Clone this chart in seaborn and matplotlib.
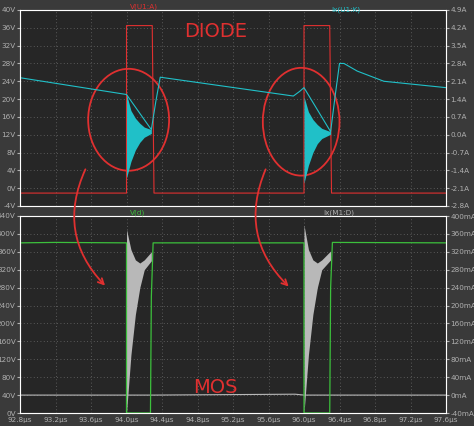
"""
LTspice-style waveform capture: diode and MOSFET switching
"""

import numpy as np
import matplotlib.pyplot as plt
import seaborn as sns
from matplotlib.patches import Ellipse

# ---- data (time in us) ----
va_t = [92.8, 94.0, 94.0, 94.29, 94.31, 96.0, 96.0, 96.29, 96.31, 97.6]
va_v = [-1.1, -1.1, 36.5, 36.5, -1.1, -1.1, 36.5, 36.5, -1.1, -1.1]

ik_t = [92.8, 94.0, 94.28, 94.33, 94.38, 95.88, 95.95, 96.0, 96.3, 96.35, 96.4, 96.45, 96.6, 96.9, 97.6]
ik_a = [2.24, 1.58, 0.20, 1.30, 2.26, 1.52, 1.70, 1.85, 0.12, 1.50, 2.80, 2.80, 2.50, 2.10, 1.85]

# oscillation envelopes of the diode current
env1_t = [94.0, 94.05, 94.1, 94.15, 94.2, 94.28]
env1_hi = [1.60, 0.95, 0.65, 0.45, 0.30, 0.20]
env1_lo = [-1.70, -1.05, -0.60, -0.30, -0.10, 0.05]
env2_t = [96.0, 96.05, 96.1, 96.15, 96.2, 96.3]
env2_hi = [1.50, 0.90, 0.60, 0.40, 0.25, 0.12]
env2_lo = [-1.90, -1.20, -0.70, -0.35, -0.15, 0.02]

vd_t = [92.8, 93.2, 94.0, 94.0, 94.27, 94.28, 94.3, 96.0, 96.0, 96.29, 96.3, 96.32, 97.6]
vd_v = [380, 381, 380, 0, 0, 260, 380, 380, 0, 0, 280, 381, 380]

id_t = [92.8, 94.0, 94.0, 94.3, 94.3, 95.9, 96.0, 96.0, 96.3, 96.3, 97.6]
id_a = [0, 0, 0, 0, 0, 2, 0, 0, 0, 0, 0]
envm1_t = [94.0, 94.05, 94.1, 94.15, 94.2, 94.28]
envm1_hi = [370, 325, 302, 295, 302, 320]
envm1_lo = [-40, 90, 180, 240, 280, 300]
envm2_t = [96.0, 96.05, 96.1, 96.15, 96.2, 96.3]
envm2_hi = [380, 325, 302, 295, 302, 322]
envm2_lo = [-40, 90, 180, 240, 280, 302]

x_ticks = [92.8, 93.2, 93.6, 94.0, 94.4, 94.8, 95.2, 95.6, 96.0, 96.4, 96.8, 97.2, 97.6]

BG = '#262626'
FIG_BG = '#3a3a3a'
TXT = '#b0b0b0'
RED = '#e03030'
CYAN = '#20c0c8'
GREEN = '#3cc03c'
GREY = '#b8b8b8'
FS = 5.2


def style(ax, ylim, yticks, ylabels):
    ax.set_facecolor(BG)
    ax.set_xlim(92.8, 97.6)
    ax.set_ylim(*ylim)
    ax.set_yticks(yticks)
    ax.set_yticklabels(ylabels)
    ax.set_xticks(x_ticks)
    ax.grid(True, color='#6a6a6a', linestyle=(0, (1, 3)), linewidth=0.6)
    ax.tick_params(colors=TXT, labelsize=FS, length=2, pad=1)
    for s in ax.spines.values():
        s.set_color('#909090')


sns.set_style("dark")
fig = plt.figure(figsize=(4.74, 4.26), dpi=100, facecolor=FIG_BG)
ax1 = fig.add_axes([20 / 474, 1 - 206 / 426, 426 / 474, 196 / 426])
ax2 = fig.add_axes([20 / 474, 1 - 413 / 426, 426 / 474, 197 / 426])

# top panel
style(ax1, (-4, 40), range(-4, 41, 4), [f'{v}V' for v in range(-4, 41, 4)])
ax1.set_xticklabels([])
sns.lineplot(x=va_t, y=va_v, ax=ax1, color=RED, linewidth=0.8, sort=False, estimator=None)
r1 = ax1.twinx()
r1.set_ylim(-2.8, 4.9)
r1.set_yticks(np.arange(-2.8, 4.95, 0.7))
r1.set_yticklabels([f'{v:.1f}A' for v in np.arange(-2.8, 4.95, 0.7)])
r1.tick_params(colors=TXT, labelsize=FS, length=2, pad=1)
sns.lineplot(x=ik_t, y=ik_a, ax=r1, color=CYAN, linewidth=0.8, sort=False, estimator=None)
r1.fill_between(env1_t, env1_lo, env1_hi, color=CYAN, linewidth=0)
r1.fill_between(env2_t, env2_lo, env2_hi, color=CYAN, linewidth=0)
r1.set_ylabel('')
ax1.set_title('V(U1:A)', color=RED, fontsize=FS, pad=1, x=0.29)
fig.text(0.73, 0.972, 'Ix(U1:K)', color=CYAN, fontsize=FS, ha='center')
ax1.text(94.65, 34, 'DIODE', color=RED, fontsize=14)

# bottom panel
style(ax2, (0, 440), range(0, 441, 40), [f'{v}V' for v in range(0, 441, 40)])
ax2.set_xticklabels([f'{v:.1f}µs' for v in x_ticks])
r2 = ax2.twinx()
r2.set_ylim(-40, 400)
r2.set_yticks(range(-40, 401, 40))
r2.set_yticklabels([f'{v}mA' for v in range(-40, 401, 40)])
r2.tick_params(colors=TXT, labelsize=FS, length=2, pad=1)
sns.lineplot(x=id_t, y=id_a, ax=r2, color=GREY, linewidth=0.8, sort=False, estimator=None)
r2.fill_between(envm1_t, envm1_lo, envm1_hi, color=GREY, linewidth=0)
r2.fill_between(envm2_t, envm2_lo, envm2_hi, color=GREY, linewidth=0)
sns.lineplot(x=vd_t, y=vd_v, ax=r2, color=GREEN, linewidth=0.9, sort=False, estimator=None,
             transform=ax2.transData)
r2.set_ylabel('')
fig.text(0.29, 0.497, 'V(d)', color=GREEN, fontsize=FS, ha='center')
fig.text(0.715, 0.497, 'Ix(M1:D)', color=TXT, fontsize=FS, ha='center')
ax2.text(94.75, 45, 'MOS', color=RED, fontsize=14)

# hand-drawn annotations (axes-fraction coordinates of ax1)
for cx, cy, w, h in [(0.255, 0.44, 0.19, 0.52), (0.66, 0.43, 0.18, 0.55)]:
    ax1.add_patch(Ellipse((cx, cy), w, h, transform=ax1.transAxes, fill=False,
                          edgecolor=RED, linewidth=1.3, zorder=5))
for x0, x1, y1 in [(93.55, 93.78, 280), (95.58, 95.85, 278)]:
    fig.add_artist(plt.Annotation('', xy=(x1, y1), xycoords=ax2.transData,
                                  xytext=(x0, 0.2), textcoords=(ax2.transData, ax1.transAxes),
                                  arrowprops=dict(arrowstyle='->', color=RED, lw=1.3,
                                                  connectionstyle='arc3,rad=0.35')))

plt.savefig('out.png', dpi=100, facecolor=FIG_BG)
